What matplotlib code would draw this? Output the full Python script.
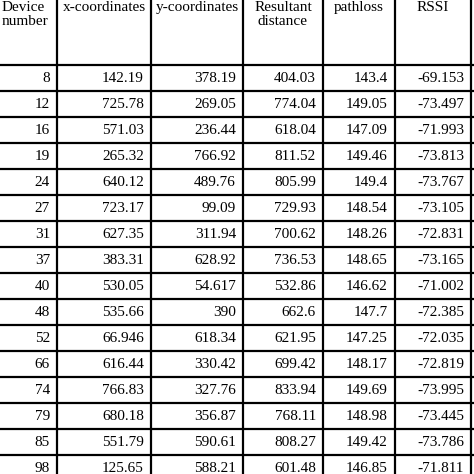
import matplotlib
matplotlib.use("Agg")
import matplotlib.pyplot as plt

headers = ["Device\nnumber", "x-coordinates", "y-coordinates", "Resultant\ndistance", "pathloss", "RSSI"]
device = ["8", "12", "16", "19", "24", "27", "31", "37", "40", "48", "52", "66", "74", "79", "85", "98"]
x_coord = ["142.19", "725.78", "571.03", "265.32", "640.12", "723.17", "627.35", "383.31",
           "530.05", "535.66", "66.946", "616.44", "766.83", "680.18", "551.79", "125.65"]
y_coord = ["378.19", "269.05", "236.44", "766.92", "489.76", "99.09", "311.94", "628.92",
           "54.617", "390", "618.34", "330.42", "327.76", "356.87", "590.61", "588.21"]
dist = ["404.03", "774.04", "618.04", "811.52", "805.99", "729.93", "700.62", "736.53",
        "532.86", "662.6", "621.95", "699.42", "833.94", "768.11", "808.27", "601.48"]
pathloss = ["143.4", "149.05", "147.09", "149.46", "149.4", "148.54", "148.26", "148.65",
            "146.62", "147.7", "147.25", "148.17", "149.69", "148.98", "149.42", "146.85"]
rssi = ["-69.153", "-73.497", "-71.993", "-73.813", "-73.767", "-73.105", "-72.831", "-73.165",
        "-71.002", "-72.385", "-72.035", "-72.819", "-73.995", "-73.445", "-73.786", "-71.811"]
columns = [device, x_coord, y_coord, dist, pathloss, rssi]

# layout in pixel units
col_edges = [-5, 57, 151, 243, 323, 395, 471]
header_bottom = 65
row_h = 26.0

fig = plt.figure(figsize=(4.74, 4.74), dpi=100)
ax = fig.add_axes([0, 0, 1, 1])
ax.set_xlim(0, 474)
ax.set_ylim(474, 0)
ax.axis("off")

n = len(device)
lw = 1.6
for x in col_edges[1:]:
    ax.plot([x, x], [-5, 480], color="black", lw=lw)
ax.plot([0, 474], [header_bottom, header_bottom], color="black", lw=lw)
for i in range(1, n + 1):
    y = header_bottom + i * row_h
    ax.plot([0, 474], [y, y], color="black", lw=lw)

font = dict(family="Liberation Serif", fontsize=11, color="black")
for j, h in enumerate(headers):
    if j == 0:
        ax.text(2, 1, h, ha="left", va="top", linespacing=1.05, **font)
    else:
        cx = (col_edges[j] + col_edges[j + 1]) / 2
        ax.text(cx, 1, h, ha="center", va="top", linespacing=1.05, **font)

for j, col in enumerate(columns):
    xr = col_edges[j + 1] - 7
    for i, v in enumerate(col):
        yc = header_bottom + (i + 0.5) * row_h
        ax.text(xr, yc, v, ha="right", va="center", **font)

fig.savefig("out.png", dpi=100)
